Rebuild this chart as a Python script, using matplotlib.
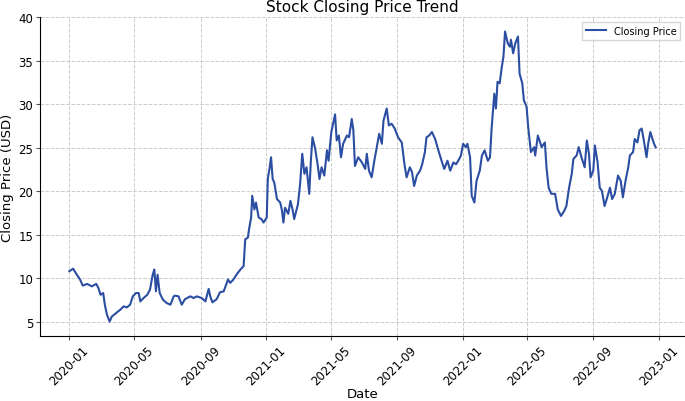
"""Stock closing price trend, 2020-01 to 2022-12."""
import matplotlib

matplotlib.use("Agg")
import matplotlib.dates as mdates
import matplotlib.pyplot as plt
import pandas as pd

START_DATE = "2020-01-01"

# days since START_DATE
day_offsets = [
    0, 7, 14, 20, 25, 33, 42, 50, 54, 58, 63, 66, 70, 75, 79, 85, 95, 101, 107, 113,
    118, 124, 129, 132, 138, 145, 150, 155, 158, 161, 164, 168, 174, 181, 188, 194, 197, 203, 209, 215,
    225, 231, 237, 246, 253, 259, 262, 266, 274, 280, 287, 295, 299, 305, 311, 318, 324, 327, 332, 334,
    338, 340, 344, 347, 352, 357, 361, 367, 369, 372, 375, 378, 381, 386, 392, 395, 398, 401, 407, 411,
    415, 418, 425, 429, 433, 437, 441, 446, 449, 452, 457, 462, 465, 469, 474, 479, 482, 487, 491, 494,
    497, 501, 505, 509, 516, 520, 525, 528, 531, 537, 544, 550, 553, 557, 562, 567, 571, 576, 581, 584,
    590, 594, 599, 605, 611, 618, 623, 627, 633, 637, 641, 646, 652, 656, 661, 664, 669, 674, 680, 686,
    692, 697, 703, 708, 714, 719, 723, 728, 732, 737, 740, 745, 748, 753, 757, 763, 767, 772, 778, 782,
    785, 790, 793, 796, 800, 804, 807, 810, 815, 819, 821, 825, 829, 834, 837, 842, 845, 850, 853, 858,
    864, 866, 871, 878, 884, 887, 891, 896, 903, 908, 914, 920, 924, 929, 934, 937, 943, 947, 952, 958,
    962, 966, 969, 974, 977, 982, 986, 990, 995, 1000, 1005, 1009, 1014, 1020, 1025, 1029, 1034, 1039, 1042, 1048,
    1051, 1056, 1060, 1064, 1068, 1073, 1076, 1080, 1084, 1087, 1090,
]
closing_price = [
    10.81, 11.1, 10.4, 9.85, 9.15, 9.35, 9.07, 9.35, 8.9, 8.1, 8.3, 6.96, 5.8, 5.03, 5.6, 5.9, 6.4, 6.77, 6.65, 6.96,
    7.92, 8.3, 8.3, 7.34, 7.73, 8.1, 8.7, 10.4, 11.0, 8.5, 10.4, 8.3, 7.54, 7.15, 6.96, 7.92, 8.0, 7.92, 6.96, 7.6,
    7.92, 7.73, 7.92, 7.73, 7.34, 8.77, 7.92, 7.23, 7.6, 8.38, 8.5, 9.85, 9.47, 9.85, 10.43, 11.0, 11.39, 14.47, 14.67, 15.6,
    16.98, 19.47, 17.9, 18.7, 16.98, 16.8, 16.4, 16.98, 21.4, 22.56, 23.9, 21.4, 21.0, 19.1, 18.7, 17.9, 16.4, 18.1, 17.4, 18.9,
    17.9, 16.8, 18.5, 20.8, 24.3, 22.0, 22.75, 19.7, 23.5, 26.2, 24.9, 22.9, 21.4, 22.75, 21.8, 24.7, 23.5, 26.8, 27.95, 28.83,
    25.83, 26.4, 23.9, 25.45, 26.4, 26.2, 28.3, 27.0, 22.9, 23.9, 23.3, 22.56, 24.3, 22.36, 21.6, 23.5, 24.9, 26.6, 25.45, 28.1,
    29.5, 27.56, 27.76, 27.2, 26.2, 25.6, 23.1, 21.6, 22.75, 22.2, 20.6, 21.8, 22.36, 23.1, 24.5, 26.2, 26.4, 26.8, 26.0, 24.7,
    23.5, 22.56, 23.5, 22.36, 23.3, 23.1, 23.5, 24.1, 25.45, 25.06, 25.45, 23.9, 19.47, 18.7, 21.2, 22.36, 24.1, 24.7, 23.5, 23.9,
    27.2, 31.2, 29.5, 32.57, 32.4, 34.3, 35.46, 38.35, 37.0, 36.6, 37.4, 35.84, 37.0, 37.77, 33.5, 32.4, 30.45, 29.7, 27.4, 24.5,
    25.06, 24.1, 26.4, 25.06, 25.6, 22.75, 20.4, 19.7, 19.7, 17.9, 17.16, 17.74, 18.3, 20.4, 22.0, 23.7, 24.1, 25.06, 23.9, 22.75,
    25.83, 24.3, 21.6, 22.36, 25.25, 23.3, 20.4, 20.05, 18.3, 19.3, 20.4, 19.1, 19.7, 21.8, 21.2, 19.3, 21.2, 22.75, 24.1, 24.5,
    26.0, 25.6, 27.0, 27.2, 25.83, 23.9, 25.45, 26.8, 26.0, 25.45, 25.06,
]

dates = pd.Timestamp(START_DATE) + pd.to_timedelta(day_offsets, unit="D")

fig = plt.figure(figsize=(6.85, 4.02), dpi=100)
ax = fig.add_axes([40 / 685, 65 / 402, 645 / 685, 319 / 402])
ax.plot(dates, closing_price, color="#2b4ea2", linewidth=1.5, label="Closing Price")

ax.xaxis.set_major_locator(mdates.MonthLocator(bymonth=[1, 5, 9]))
ax.xaxis.set_major_formatter(mdates.DateFormatter("%Y-%m"))
plt.setp(ax.get_xticklabels(), rotation=45, fontsize=8.5)
plt.setp(ax.get_yticklabels(), fontsize=8.5)
ax.tick_params(length=3, color="#555555", pad=2)

ax.set_title("Stock Closing Price Trend", fontsize=11, pad=4)
ax.set_xlabel("Date", fontsize=9.5, labelpad=0)
ax.set_ylabel("Closing Price (USD)", fontsize=9.5, labelpad=3)
ax.grid(linestyle="--", color="#cccccc", linewidth=0.7)
for side in ("top", "right"):
    ax.spines[side].set_visible(False)
ax.legend(loc="upper right", fontsize=7, edgecolor="#cccccc", fancybox=False)

fig.savefig("out.png", dpi=100)
plt.close(fig)
